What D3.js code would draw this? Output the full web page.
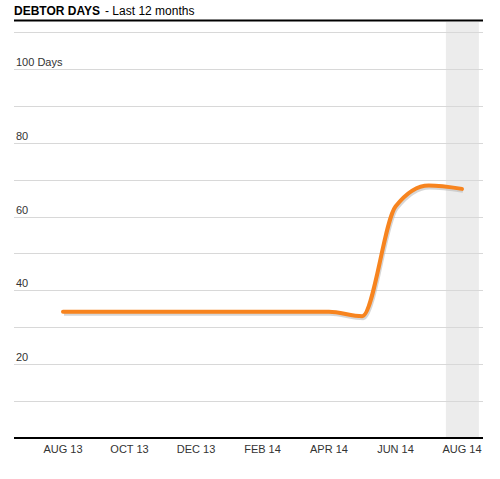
<!DOCTYPE html>
<html>
<head>
<meta charset="utf-8">
<style>
  body { margin: 0; background: #fff; font-family: "Liberation Sans", Arial, sans-serif; }
  .grid line { stroke: #d8d8d8; stroke-width: 1; }
  .ylab { font-size: 11px; fill: #333; }
  .xlab { font-size: 11px; fill: #333; text-anchor: middle; }
</style>
</head>
<body>
<svg width="500" height="479"></svg>
<script src="https://cdn.jsdelivr.net/npm/d3@7"></script>
<script>
var months = ["AUG 13","SEP 13","OCT 13","NOV 13","DEC 13","JAN 14","FEB 14","MAR 14","APR 14","MAY 14","JUN 14","JUL 14","AUG 14"];
var debtorDays = [34.2,34.2,34.2,34.2,34.2,34.2,34.2,34.2,34.2,33,62.7,68.4,67.5];
var gridValues = [10,20,30,40,50,60,70,80,90,100,110];
var yLabels = [[20,"20"],[40,"40"],[60,"60"],[80,"80"],[100,"100 Days"]];
var xLabelMonths = ["AUG 13","OCT 13","DEC 13","FEB 14","APR 14","JUN 14","AUG 14"];

var svg = d3.select("svg");
var left = 14, right = 483;

var x = d3.scalePoint().domain(months).range([63, 462]);
var y = d3.scaleLinear().domain([0, 110]).range([438, 32]);
var step = x.step();

// title
svg.append("text").attr("x", 14).attr("y", 15)
  .style("font-size", "12px").style("font-weight", "bold").text("DEBTOR DAYS")
  .append("tspan").style("font-weight", "normal").attr("dx", 5).text("- Last 12 months");
svg.append("line").attr("x1", left).attr("x2", right).attr("y1", 20.5).attr("y2", 20.5)
  .attr("stroke", "#000").attr("stroke-width", 2);

// current month band
svg.append("rect").attr("x", x("AUG 14") - step / 2 + 0.5).attr("y", 22)
  .attr("width", 33).attr("height", y(0) - 22).attr("fill", "#ececec");

svg.append("g").attr("class", "grid").selectAll("line").data(gridValues).join("line")
  .attr("x1", left).attr("x2", right)
  .attr("y1", function (d) { return Math.round(y(d)) + 0.5; })
  .attr("y2", function (d) { return Math.round(y(d)) + 0.5; });

svg.selectAll(".ylab").data(yLabels).join("text").attr("class", "ylab")
  .attr("x", 16).attr("y", function (d) { return y(d[0]) - 3; })
  .text(function (d) { return d[1]; });

svg.append("line").attr("x1", left).attr("x2", right).attr("y1", y(0)).attr("y2", y(0))
  .attr("stroke", "#000").attr("stroke-width", 2);

svg.selectAll(".xlab").data(xLabelMonths).join("text").attr("class", "xlab")
  .attr("x", function (d) { return x(d); }).attr("y", 453).text(function (d) { return d; });

var line = d3.line().curve(d3.curveMonotoneX)
  .x(function (d, i) { return x(months[i]); })
  .y(function (d) { return y(d); });

svg.append("path").datum(debtorDays).attr("d", line)
  .attr("fill", "none").attr("stroke", "#bbb").attr("stroke-width", 4)
  .attr("transform", "translate(1,2)").attr("opacity", 0.6);
svg.append("path").datum(debtorDays).attr("d", line)
  .attr("fill", "none").attr("stroke", "#f7841f").attr("stroke-width", 4)
  .attr("stroke-linecap", "round");
</script>
</body>
</html>
